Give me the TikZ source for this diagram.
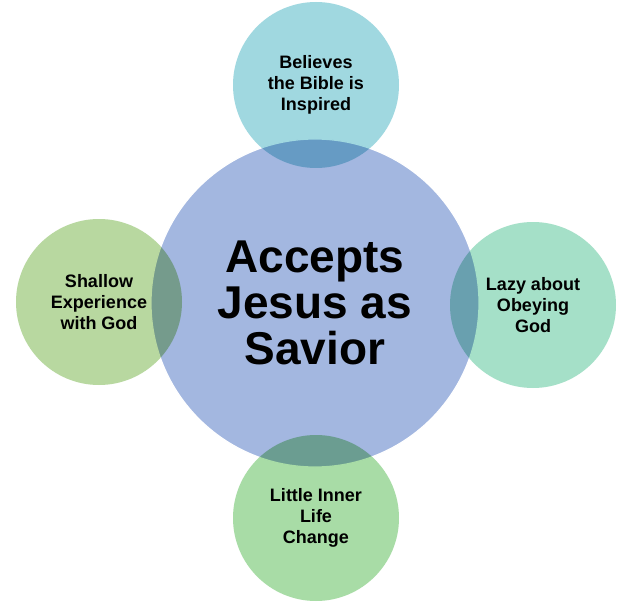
\documentclass[tikz,border=0pt]{standalone}
\usepackage{fontspec}
\setmainfont{Liberation Sans}
\begin{document}
\begin{tikzpicture}[x=1pt,y=-1pt,
  sat/.style={circle,draw=white,line width=1.2pt,minimum size=166pt,inner sep=0pt},
  lbl/.style={align=center,font=\bfseries\fontsize{18}{21}\selectfont}]
\useasboundingbox (0,0) rectangle (633,602);
\definecolor{cC}{HTML}{A3B7E0}
\definecolor{cT}{HTML}{A0D8E0}
\definecolor{cL}{HTML}{B8D8A0}
\definecolor{cR}{HTML}{A5E0C8}
\definecolor{cB}{HTML}{A8DCA6}
\node[circle,draw=white,line width=1.2pt,fill=cC,minimum size=328pt,inner sep=0pt] (c) at (315,303) {};
\begin{scope}[blend mode=multiply]
\node[sat,fill=cT] (t) at (316,85) {};
\node[sat,fill=cL] (l) at (99,302) {};
\node[sat,fill=cR] (r) at (533,305) {};
\node[sat,fill=cB] (b) at (316,518) {};
\end{scope}
\node[align=center,font=\bfseries\fontsize{46}{46}\selectfont] (ct) at (c) {Accepts\\Jesus as\\Savior};
\node[lbl] (tt) at (t) {Believes\\the Bible is\\Inspired};
\node[lbl] (lt) at (l) {Shallow\\Experience\\with God};
\node[lbl] (rt) at (r) {Lazy about\\Obeying\\God};
\node[lbl] (bt) at (b) {Little Inner\\Life\\Change};
\end{tikzpicture}
\end{document}
